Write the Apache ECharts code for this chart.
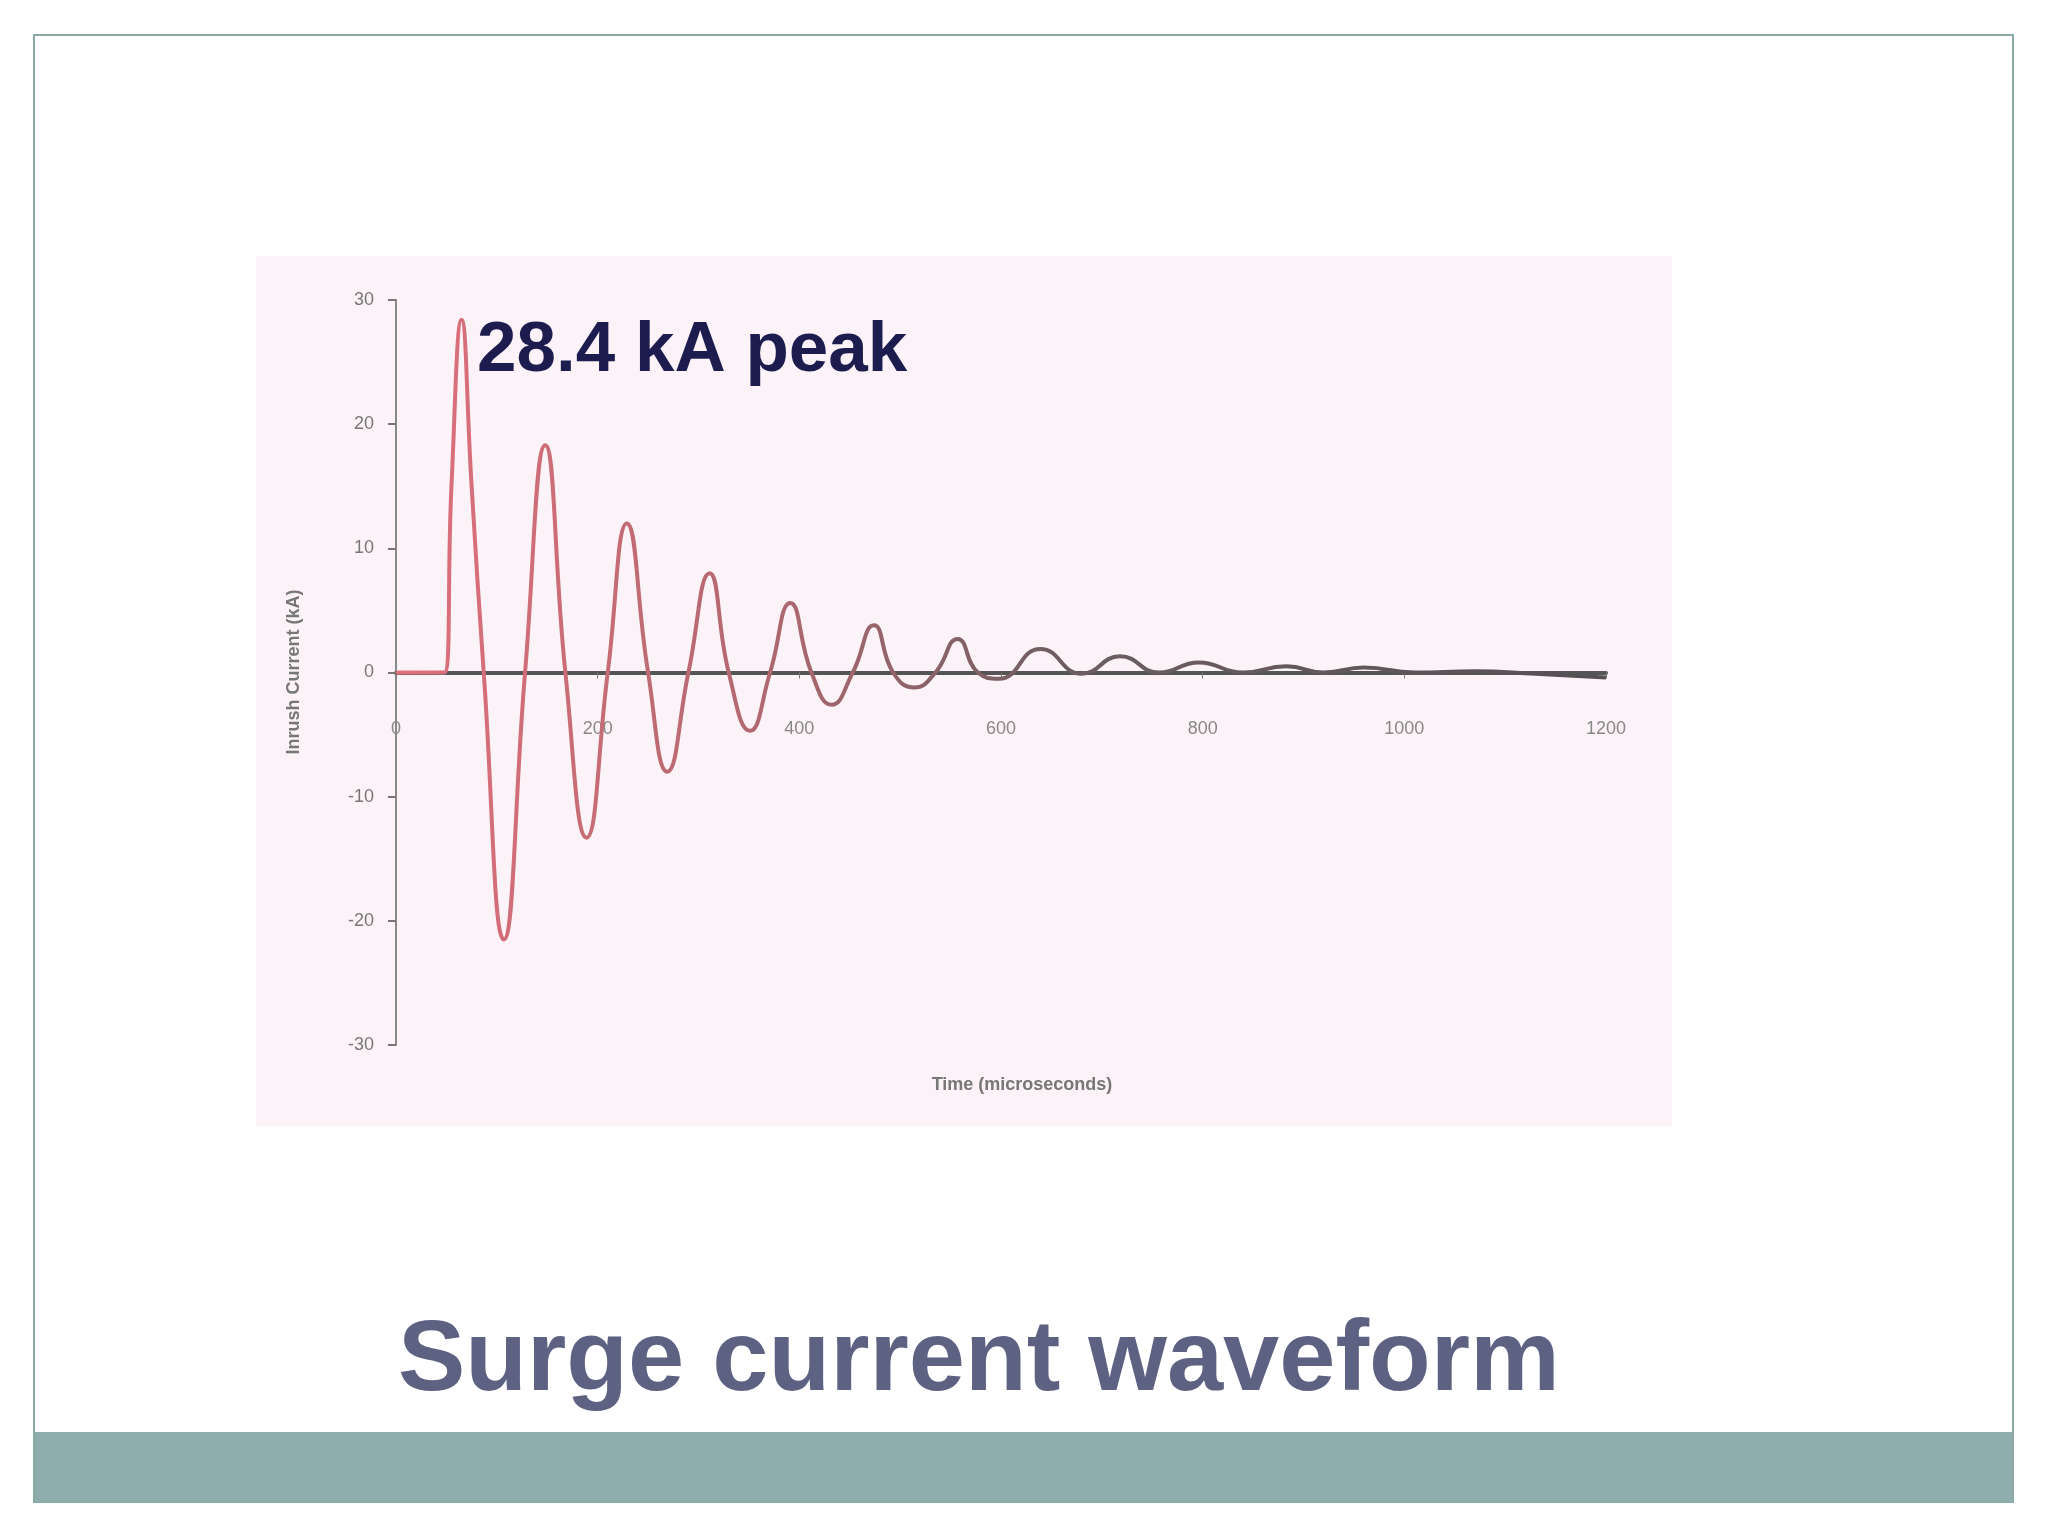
<!DOCTYPE html>
<html><head><meta charset="utf-8">
<script src="https://cdn.jsdelivr.net/npm/echarts@6/dist/echarts.min.js"></script>
<style>html,body{margin:0;padding:0;background:#fff}#c{width:2048px;height:1536px}</style>
</head><body><div id="c"></div>
<script>
const times = [0,48,55,65,75,87,107,128,148,168,189,210,229,250,269,290,311,330,351,371,391,412,432,453,474,493,514,535,557,577,598,639,680,718,757,796,840,883,920,960,1010,1070,1130,1200];
const current = [0,0,15,28.4,15,0,-21.5,0,18.3,0,-13.3,0,12,0,-8,0,8,0,-4.7,0,5.6,0,-2.6,0,3.8,0,-1.2,0,2.7,0,-0.5,1.9,-0.1,1.3,0,0.8,0,0.5,0,0.4,0,0.1,-0.1,-0.4];
const yTicks = [-30,-20,-10,0,10,20,30];
const xTicks = [0,200,400,600,800,1000,1200];
const titleText = 'Surge current waveform';
const peakText = '28.4 kA peak';

const chart = echarts.init(document.getElementById('c'));
chart.setOption({
  backgroundColor:'#ffffff',
  animation:false,
  graphic:[
    {type:'rect',z:-10,shape:{x:34,y:35,width:1979,height:1467},style:{fill:'#ffffff',stroke:'#8aa8a4',lineWidth:2}},
    {type:'rect',z:-9,shape:{x:256,y:256,width:1416,height:870},style:{fill:'#fbf3f7'}},
    {type:'rect',z:-9,shape:{x:35,y:1432,width:1977,height:70},style:{fill:'#8fadad'}},
    {type:'text',x:398,y:1312,style:{text:titleText,font:'bold 101px "Liberation Sans", Arial, sans-serif',fill:'#5e6282'}},
    {type:'text',x:477,y:316,style:{text:peakText,font:'bold 71px "Liberation Sans", Arial, sans-serif',fill:'#1c1c4e'}},
    {type:'text',x:1022,y:1085,style:{text:'Time (microseconds)',font:'bold 18px "Liberation Sans", sans-serif',fill:'#777',align:'center',verticalAlign:'middle'}},
    {type:'text',x:294,y:672,rotation:Math.PI/2,style:{text:'Inrush Current (kA)',font:'bold 18px "Liberation Sans", sans-serif',fill:'#777',align:'center',verticalAlign:'middle'}}
  ],
  grid:{left:396,right:442,top:300,bottom:491,containLabel:false},
  xAxis:{type:'value',min:0,max:1200,interval:200,
    axisLine:{onZero:true,lineStyle:{color:'#555',width:4}},
    axisTick:{show:true,length:6,lineStyle:{color:'#777'}},
    axisLabel:{color:'#888',fontSize:18,margin:-325,formatter:v=>xTicks.includes(v)?String(v):''},
    splitLine:{show:false}},
  yAxis:{type:'value',min:-30,max:30,interval:10,
    axisLine:{show:true,lineStyle:{color:'#888',width:2}},
    axisTick:{show:true,length:8,lineStyle:{color:'#777',width:2}},
    axisLabel:{color:'#777',fontSize:18,margin:22,formatter:v=>yTicks.includes(v)?String(v):''},
    splitLine:{show:false}},
  series:[{type:'line',smooth:0.5,symbol:'none',
    data:times.map((t,i)=>[t,current[i]]),
    lineStyle:{width:4,color:new echarts.graphic.LinearGradient(0,0,1,0,[
      {offset:0,color:'#e0707c'},{offset:0.3,color:'#b26870'},{offset:0.55,color:'#6e5e62'},{offset:1,color:'#555055'}])}}]
});
</script></body></html>
